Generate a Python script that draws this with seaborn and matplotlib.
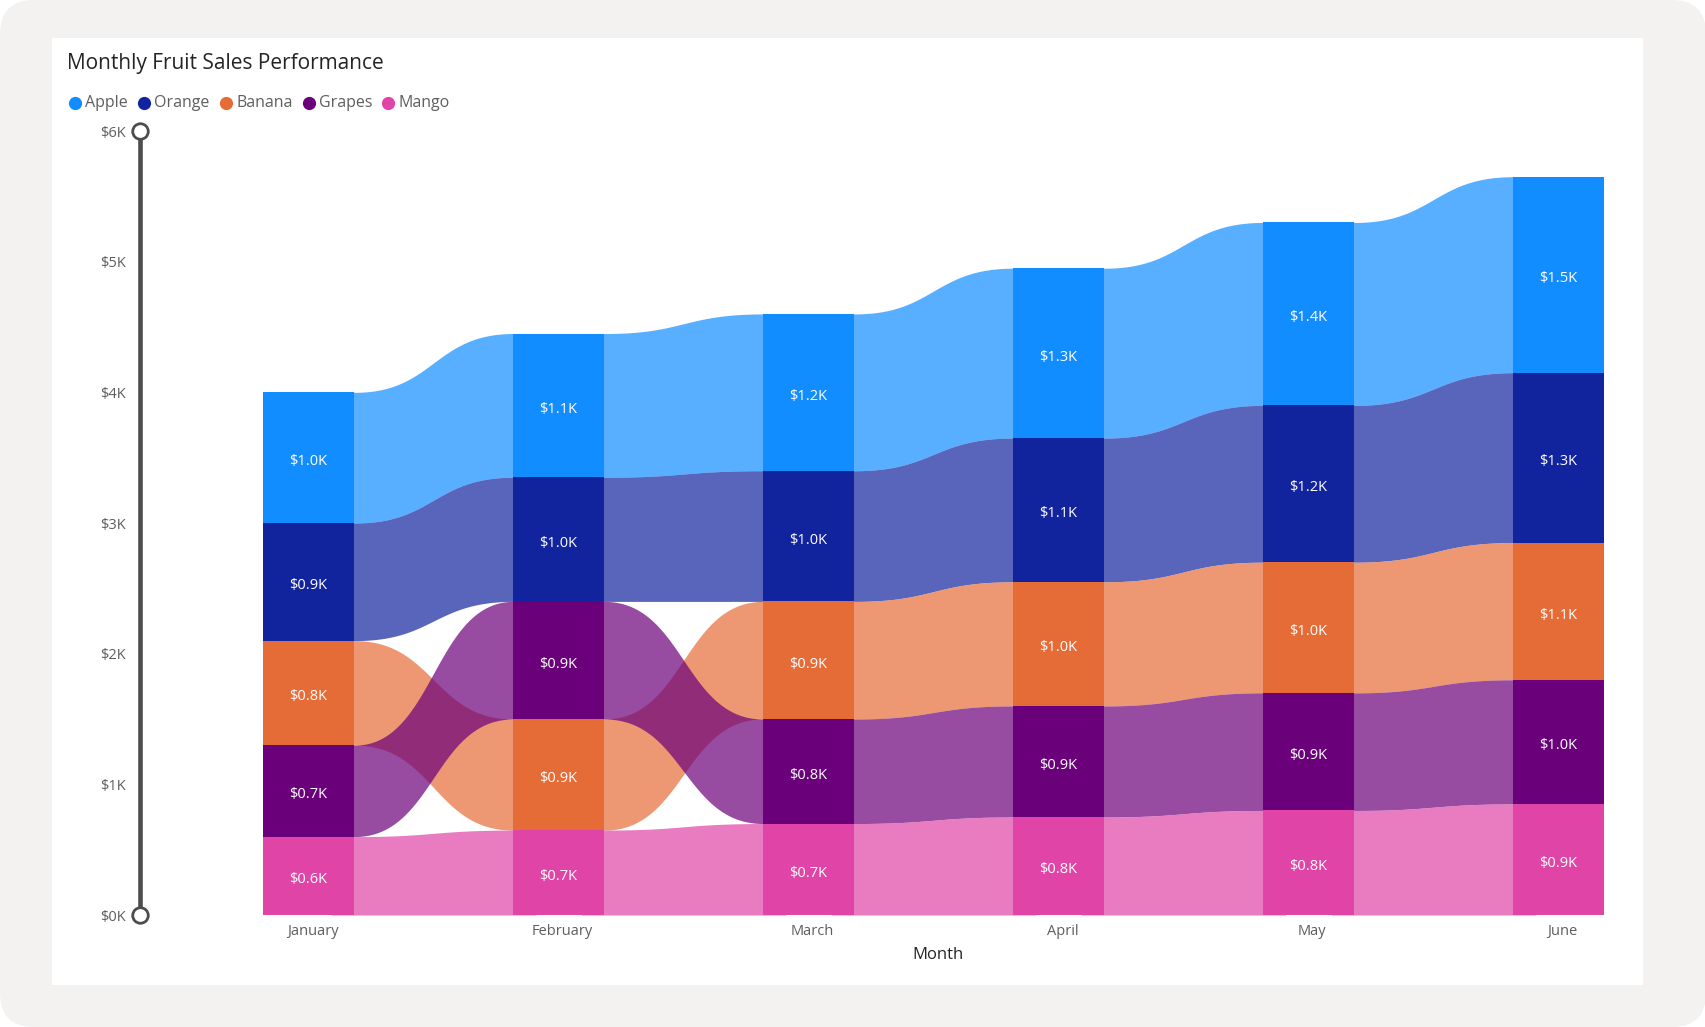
import matplotlib
matplotlib.use("Agg")
import numpy as np
import pandas as pd
import matplotlib.pyplot as plt
import seaborn as sns
from matplotlib.patches import FancyBboxPatch, Rectangle
from matplotlib.lines import Line2D
from matplotlib.transforms import blended_transform_factory, IdentityTransform, ScaledTranslation
from decimal import Decimal, ROUND_HALF_UP

# ---------------- data ----------------
months = ["January", "February", "March", "April", "May", "June"]
fruits = ["Apple", "Orange", "Banana", "Grapes", "Mango"]
apple = [1000, 1100, 1200, 1300, 1400, 1500]
orange = [900, 950, 1000, 1100, 1200, 1300]
banana = [800, 850, 900, 950, 1000, 1050]
grapes = [700, 900, 800, 850, 900, 950]
mango = [600, 650, 700, 750, 800, 850]
fruit_colors = ["#118DFF", "#12239E", "#E66C37", "#6B007B", "#E044A7"]
y_ticks = [0, 1000, 2000, 3000, 4000, 5000, 6000]
y_tick_labels = ["$0K", "$1K", "$2K", "$3K", "$4K", "$5K", "$6K"]

sales = {"Apple": apple, "Orange": orange, "Banana": banana, "Grapes": grapes, "Mango": mango}
df = pd.DataFrame([(m, f, sales[f][i]) for i, m in enumerate(months) for f in fruits],
                  columns=["Month", "Fruit", "Sales"])

# ---------------- style ----------------
sns.set_theme(style="white")
plt.rcParams["font.family"] = ["Open Sans", "DejaVu Sans"]
palette = dict(zip(fruits, sns.color_palette(fruit_colors)))

W, H = 1706, 1027
fig = plt.figure(figsize=(W / 100, H / 100), dpi=100)
fig.patch.set_facecolor("white")

# canvas background (rounded grey) and white visual panel
fig.patches.append(FancyBboxPatch((0, 0), W, H, boxstyle="round,pad=0,rounding_size=34",
                                  transform=IdentityTransform(), facecolor="#F3F2F1",
                                  edgecolor="none", zorder=-10))
fig.patches.append(Rectangle((52, H - 985), 1643 - 52, 985 - 38, transform=IdentityTransform(),
                             facecolor="white", edgecolor="none", zorder=-9))

# plot area
ax_left, ax_right, ax_top, ax_bottom = 263, 1604, 131, 915
ax = fig.add_axes([ax_left / W, (H - ax_bottom) / H, (ax_right - ax_left) / W, (ax_bottom - ax_top) / H])
ax.set_facecolor("none")

bw = 0.365  # bar width in category units

# stacking: per month, ascending values from bottom
stack = {}
for i, m in enumerate(months):
    sub = df[df["Month"] == m].sort_values("Sales", kind="stable")
    base = 0.0
    for _, r in sub.iterrows():
        stack[(r["Fruit"], i)] = (base, base + r["Sales"])
        base += r["Sales"]

# ribbons (flat part continues under the bars so no seam shows)
t = np.linspace(0, 1, 240)
xs_shape = 1.5 * t * (1 - t) + t ** 3
ys_shape = 3 * t ** 2 - 2 * t ** 3
for f in fruits:
    for i in range(len(months) - 1):
        b0, t0 = stack[(f, i)]
        b1, t1 = stack[(f, i + 1)]
        xa, xb = i + bw / 2, i + 1 - bw / 2
        x = np.concatenate([[i + bw / 4], xa + (xb - xa) * xs_shape, [i + 1 - bw / 4]])
        yb = np.concatenate([[b0], b0 + (b1 - b0) * ys_shape, [b1]])
        yt = np.concatenate([[t0], t0 + (t1 - t0) * ys_shape, [t1]])
        ax.fill_between(x, yb, yt, color=palette[f], alpha=0.7, linewidth=0, zorder=1)

# bars + labels
def fmt(v):
    k = (Decimal(int(v)) / Decimal(1000)).quantize(Decimal("0.1"), rounding=ROUND_HALF_UP)
    return f"${k}K"

lab_shift = ScaledTranslation(0, -4 / 100, fig.dpi_scale_trans)
for f in fruits:
    for i in range(len(months)):
        b, tp = stack[(f, i)]
        ax.bar(i, tp - b, bottom=b, width=bw, color=palette[f], linewidth=0, zorder=2)
        ax.text(i, (b + tp) / 2, fmt(tp - b), ha="center", va="center", color="white",
                fontsize=10.5, zorder=3, transform=ax.transData + lab_shift)

ax.set_xlim(-bw / 2, len(months) - 1 + bw / 2)
ax.set_ylim(0, 6000)
for s in ax.spines.values():
    s.set_visible(False)
ax.grid(False)

ax.set_xticks(range(len(months)))
ax.set_xticklabels(months)
ax.tick_params(axis="x", length=0, pad=6.5, labelsize=10.5, labelcolor="#605E5C")
for lab in ax.get_xticklabels():
    lab.set_transform(lab.get_transform() + ScaledTranslation(4 / 100, 0, fig.dpi_scale_trans))
ax.set_yticks(y_ticks)
ax.set_yticklabels(y_tick_labels)
ax.tick_params(axis="y", length=0, pad=(ax_left - 126) * 0.72, labelsize=10.5, labelcolor="#605E5C")

ax.set_xlabel("Month", fontsize=12, color="#252423")
ax.xaxis.set_label_coords((938 - ax_left) / (ax_right - ax_left), -(947 - ax_bottom) / (ax_bottom - ax_top))

# slider-style y axis line
tr = blended_transform_factory(ax.transAxes, ax.transData)
sx = (140 - ax_left) / (ax_right - ax_left)
ax.plot([sx, sx], [y_ticks[0], y_ticks[-1]], transform=tr, color="#4D4D4D", lw=3.3,
        clip_on=False, zorder=4, solid_capstyle="butt")
ax.plot([sx, sx], [y_ticks[0], y_ticks[-1]], transform=tr, linestyle="none", marker="o",
        markersize=11.2, markerfacecolor="white", markeredgecolor="#4D4D4D",
        markeredgewidth=2.0, clip_on=False, zorder=5)

# title
fig.text(67 / W, 1 - 63 / H, "Monthly Fruit Sales Performance", ha="left", va="center",
         fontsize=15, color="#252423")

# legend
fig.canvas.draw()
renderer = fig.canvas.get_renderer()
x = 68.0
ly = H - 103
for f in fruits:
    fig.add_artist(Line2D([x + 6.5], [ly], transform=IdentityTransform(), marker="o",
                          markersize=9.5, markerfacecolor=palette[f], markeredgewidth=0,
                          linestyle="none"))
    txt = fig.text((x + 17) / W, ly / H, f, ha="left", va="center", fontsize=11.5,
                   color="#605E5C")
    bb = txt.get_window_extent(renderer)
    x = bb.x1 + 9.5

fig.savefig("out.png", dpi=100)
